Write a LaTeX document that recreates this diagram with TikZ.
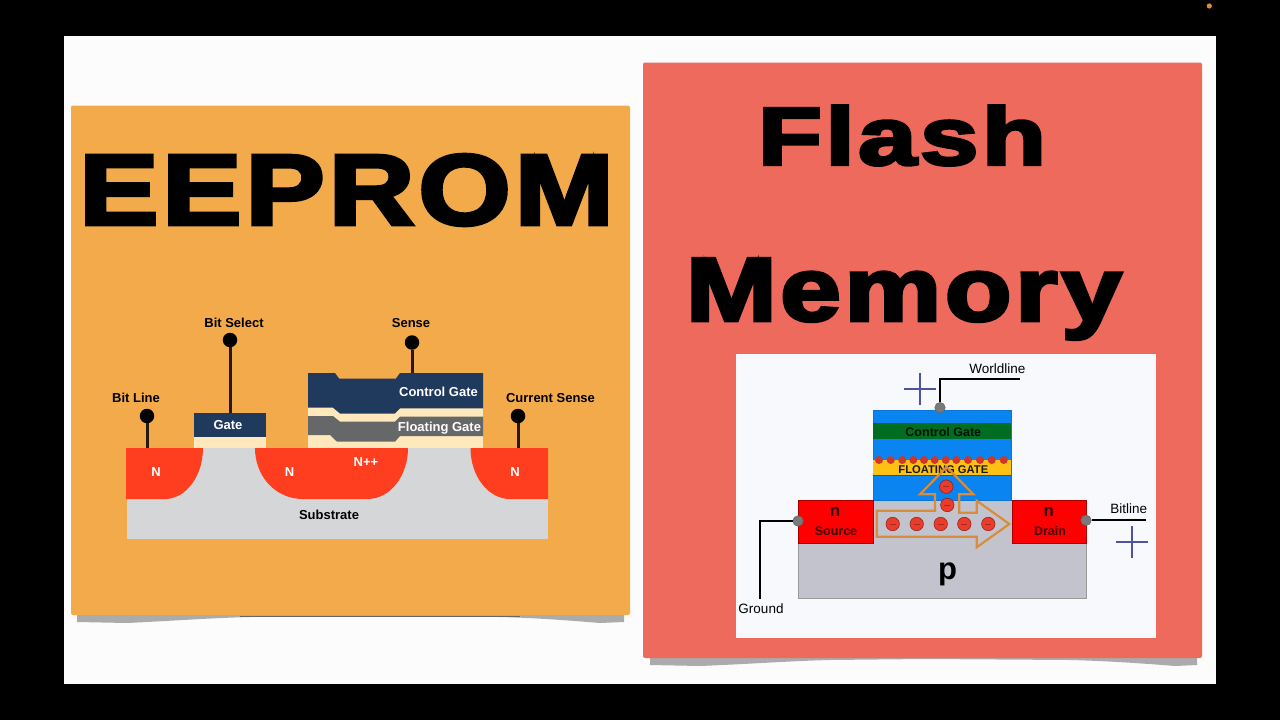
\documentclass[tikz,border=0pt]{standalone}
\usepackage{fontspec}
\setmainfont{Liberation Sans}
\newfontfamily\tfont{Liberation Sans Bold}[FakeBold=3.6,LetterSpace=3.5]
\definecolor{cOrange}{HTML}{F2AA4A}
\definecolor{cCoral}{HTML}{EE6A5C}
\definecolor{cNavy}{HTML}{1F3A5C}
\definecolor{cCream}{HTML}{FFE9BC}
\definecolor{cSlate}{HTML}{666769}
\definecolor{cDope}{HTML}{FF3D1F}
\definecolor{cSub}{HTML}{D5D6D8}
\definecolor{cBlue}{HTML}{0A84F0}
\definecolor{cGreen}{HTML}{006E22}
\definecolor{cYellow}{HTML}{FFC214}
\definecolor{cGrayP}{HTML}{C3C3CD}
\definecolor{cPlus}{HTML}{4F539F}
\definecolor{cArrow}{HTML}{DB8B3C}
\definecolor{cElec}{HTML}{EA3B2B}
\definecolor{cPanel}{HTML}{F8F9FD}
\tikzset{
  lbl/.style={inner sep=0pt,font=\fontsize{13}{15}\selectfont\bfseries},
  wlbl/.style={lbl,text=white},
  flbl/.style={inner sep=0pt,font=\fontsize{13.5}{15}\selectfont},
  pin/.style={circle,fill=black,draw=none,inner sep=0pt,minimum size=14.5pt},
  pinline/.style={draw=black!85!cOrange,line width=3pt},
  port/.style={circle,fill=gray!95!black,draw=black!60,line width=.5pt,inner sep=0pt,minimum size=10.5pt},
  wire/.style={draw=black,line width=2pt},
  plusline/.style={draw=cPlus,line width=1.7pt},
  bigdot/.style={circle,fill=cElec,draw=black!45!cElec,line width=.5pt,inner sep=0pt,minimum size=13.5pt},
  smalldot/.style={circle,fill=cElec!90!black,draw=none,inner sep=0pt,minimum size=8pt},
  title/.style={inner sep=0pt,text=black},
  shadowfill/.style={fill=black!33},
}
\newcommand{\elec}[3]{\node[bigdot] (#1) at (#2,#3) {};\draw[black!30!cElec,line width=.5pt] (#2-3,#3) -- (#2+3,#3);}
\begin{document}
\begin{tikzpicture}[x=1pt,y=-1pt]
\useasboundingbox (0,0) rectangle (1280,720);
\fill[black] (0,0) rectangle (1280,720);
\fill[white!99!black] (64,36) rectangle (1216,684);
\fill[cArrow] (1209.3,6) circle (2.6);
% shadows
\fill[shadowfill] (77,608) -- (77,622) -- (127,623) .. controls (170,621) and (210,618) .. (250,617) -- (330,616) -- (500,617) .. controls (540,618) and (575,621) .. (600,623) -- (624,622) -- (624,608) -- cycle;
\fill[shadowfill] (650,650) -- (650,665) -- (700,666) .. controls (750,664) and (790,661) .. (830,660) -- (925,659) -- (1070,660) .. controls (1110,661) and (1150,664) .. (1175,666) -- (1197,665) -- (1197,650) -- cycle;
\draw[black!60,line width=.7pt] (240,616.5) -- (520,616.5);
% panels
\fill[cOrange,rounded corners=2pt] (71,105.5) rectangle (630,615);
\fill[cCoral,rounded corners=2pt] (643,62.5) rectangle (1202,658);
% titles
\node[title] (eeprom) at (346.5,190) {\resizebox*{534pt}{71pt}{\tfont EEPROM}};
\node[title] (flash) at (902,135.5) {\resizebox*{288pt}{60pt}{\tfont Flash}};
\node[title] (memory) at (904,299) {\resizebox*{436pt}{81pt}{\tfont Memory}};
% EEPROM cell
\fill[cSub] (126.5,448) rectangle (548,539);
\fill[cDope] (126,448) -- (203,448) .. controls (203,476) and (186,499) .. (165,499) -- (126,499) -- cycle;
\fill[cDope] (255,448) -- (408,448) .. controls (408,474) and (392,499) .. (367,499) -- (303,499) .. controls (275,499) and (255,476) .. (255,448) -- cycle;
\fill[cDope] (548,448) -- (470.5,448) .. controls (470.5,476) and (488,499) .. (510,499) -- (548,499) -- cycle;
\fill[cCream] (193.5,437) rectangle (266,448);
\node[fill=cNavy,minimum width=72.5pt,minimum height=24.5pt,inner sep=0pt,anchor=south west] (gate) at (193.5,437.5) {};
\node[wlbl] at (228,425) {Gate};
\fill[cCream] (308,405) -- (483,405) -- (483,448) -- (308,448) -- cycle;
\coordinate (cgtop) at (412,373);
\fill[cNavy] (308,373) -- (335,373) -- (339,378.5) -- (396,378.5) -- (400,373) -- (483,373) -- (483,408.3) -- (400,408.3) -- (395,413.5) -- (340,413.5) -- (333,407.7) -- (308,407.7) -- cycle;
\fill[cSlate] (308,416) -- (333,416) -- (340,421.7) -- (395,421.7) -- (400,416.7) -- (483,416.7) -- (483,436) -- (400,436) -- (395,441.7) -- (337,441.7) -- (330,435) -- (308,435) -- cycle;
\node[wlbl] (cglabel) at (438.5,392) {Control Gate};
\node[wlbl] (fglabel) at (439.5,428) {Floating Gate};
\node[wlbl] at (156,472) {N};
\node[wlbl] at (289.5,472) {N};
\node[wlbl] at (366,462) {N++};
\node[wlbl] at (515,472) {N};
\node[lbl] at (329,514.5) {Substrate};
\node[pin] (blpin) at (147,416) {};
\node[pin] (bspin) at (230,340) {};
\node[pin] (sepin) at (412,342.5) {};
\node[pin] (cspin) at (518,416) {};
\coordinate (bltop) at (147,448);
\coordinate (cstop) at (518,448);
\draw[pinline] (blpin) -- (bltop);
\draw[pinline] (bspin) -- (bspin |- gate.north);
\draw[pinline] (sepin) -- (cgtop);
\draw[pinline] (cspin) -- (cstop);
\node[lbl] at (136,398) {Bit Line};
\node[lbl] at (234,323) {Bit Select};
\node[lbl] at (411,323) {Sense};
\node[lbl] at (550.5,398) {Current Sense};
% Flash cell
\fill[cPanel] (736,354) rectangle (1156,638);
\fill[cGrayP,draw=black!40,line width=.5pt] (798.5,500.7) rectangle (1086,598.7);
\fill[cBlue,draw=black!10!cBlue,line width=.5pt] (873,410) rectangle (1011,500.7);
\fill[cGreen] (873,423) rectangle (1011,438.7);
\fill[cYellow] (873,460) rectangle (1011,475.7);
\draw[black!30!cBlue,line width=.5pt] (873,475.7) -- (1011,475.7);
\fill[red,draw=black!35!red,line width=.5pt] (798.5,500.7) rectangle (873,543);
\fill[red,draw=black!35!red,line width=.5pt] (1012,500.7) rectangle (1086,543);
\node[inner sep=0pt,font=\fontsize{12.5}{14}\selectfont\bfseries,text=black!85!cGreen] at (943.3,431.7) {Control Gate};
\foreach \dx in {879,890.7,902.3,913.3,924,934.7,945.7,956.3,968,980,991.7,1003.7}
  \node[smalldot] at (\dx,460) {};
\node[inner sep=0pt,font=\fontsize{11.2}{14}\selectfont\bfseries,text=black!90] (fgtext) at (943.3,469.3) {FLOATING GATE};
\draw[cArrow,line width=2.2pt,line join=miter] (876.7,510.7) -- (935,510.7) -- (935,494.3) -- (920,494.3) -- (946.7,467) -- (973.3,494.3) -- (959.3,494.3) -- (959.3,512.7) -- (976.7,512.7) -- (976.7,500.7) -- (1009.3,524) -- (976.7,547.3) -- (976.7,536.7) -- (876.7,536.7) -- cycle;
\elec{e1}{892.7}{524}
\elec{e2}{916.7}{524}
\elec{e3}{940.7}{524}
\elec{e4}{964.3}{524}
\elec{e5}{988.3}{524}
\elec{e6}{947.3}{505}
\elec{e7}{946.3}{486.7}
\node[lbl,font=\fontsize{17}{19}\selectfont\bfseries,text=black!80!red] at (835,511.7) {n};
\node[lbl,font=\fontsize{12.5}{14}\selectfont\bfseries,text=black!75!red] at (836,530.7) {Source};
\node[lbl,font=\fontsize{17}{19}\selectfont\bfseries,text=black!80!red] at (1048.7,511.7) {n};
\node[lbl,font=\fontsize{12.5}{14}\selectfont\bfseries,text=black!75!red] at (1050,531) {Drain};
\node[lbl,font=\fontsize{31}{33}\selectfont\bfseries] at (947.7,574.5) {p};
\node[port] (wlport) at (940,407.7) {};
\node[port] (blport) at (1086,520.3) {};
\node[port] (gport) at (798,521) {};
\coordinate (wlend) at (1020,379);
\coordinate (blend) at (1146,520.3);
\coordinate (gend) at (760,599.3);
\draw[wire] (wlport) |- (wlend);
\draw[wire] (blport) -- (blend);
\draw[wire] (gport) -| (gend);
\node[flbl] at (997.3,368.3) {Worldline};
\node[flbl] at (1128.7,508.7) {Bitline};
\node[flbl] at (761,608.3) {Ground};
\draw[plusline] (904,389) -- (936,389);
\draw[plusline] (920,373.3) -- (920,405);
\draw[plusline] (1115.7,541.7) -- (1147.7,541.7);
\draw[plusline] (1131.7,526) -- (1131.7,557.7);
\end{tikzpicture}
\end{document}
